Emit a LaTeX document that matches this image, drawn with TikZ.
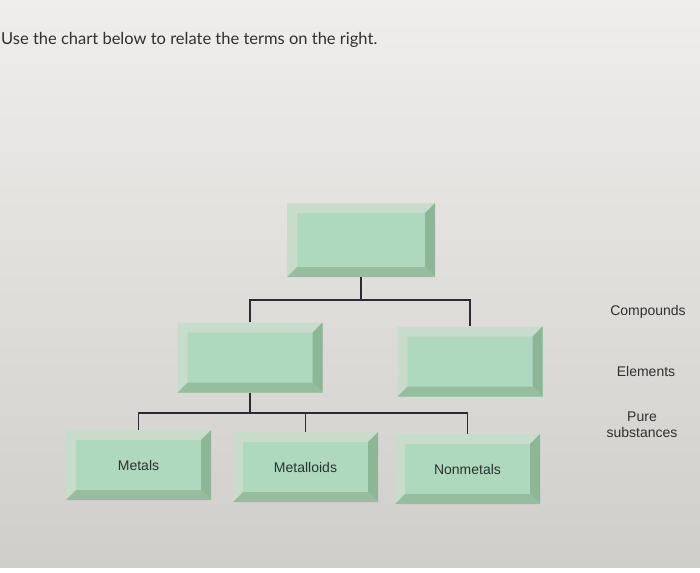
\documentclass[tikz,border=0pt]{standalone}
\usepackage{fontspec}
\setmainfont{Liberation Sans}
\newfontfamily\titlefont{Lato}
\definecolor{screen}{HTML}{EFEEEC}
\definecolor{screenlow}{HTML}{CFCECA}
\definecolor{face}{HTML}{AED9BF}
\definecolor{bevlight}{HTML}{C8DCCB}
\definecolor{bevdark}{HTML}{8DB694}
\definecolor{bevlow}{HTML}{96BE9E}
\definecolor{wire}{HTML}{2B2B36}
\definecolor{ink}{HTML}{303030}
\tikzset{
	box/.style={minimum width=145pt, minimum height=70pt, inner sep=0pt, fill=face,
		font=\fontsize{14}{16}\selectfont, text=ink,
		path picture={
			\fill[bevlight] (path picture bounding box.south west) -- (path picture bounding box.north west)
				-- (path picture bounding box.north east) -- ([shift={(-10pt,-10pt)}]path picture bounding box.north east)
				-- ([shift={(10pt,-10pt)}]path picture bounding box.north west) -- ([shift={(10pt,10pt)}]path picture bounding box.south west) -- cycle;
			\fill[bevdark] (path picture bounding box.north east) -- (path picture bounding box.south east)
				-- ([shift={(-10pt,10pt)}]path picture bounding box.south east) -- ([shift={(-10pt,-10pt)}]path picture bounding box.north east) -- cycle;
			\fill[bevlow] (path picture bounding box.south west) -- (path picture bounding box.south east)
				-- ([shift={(-10pt,10pt)}]path picture bounding box.south east) -- ([shift={(10pt,10pt)}]path picture bounding box.south west) -- cycle;
		}},
	link/.style={draw=wire, line width=1.8pt},
	term/.style={font=\fontsize{14}{16}\selectfont, text=ink, align=center}
}
\begin{document}
\begin{tikzpicture}[x=1pt, y=-1pt]
		\shade[top color=screen, bottom color=screenlow] (0,0) rectangle (700,568);
		\fill[white] (0,568) rectangle (700,572);
		\useasboundingbox (0,0) rectangle (700,572);

		\node[anchor=west, font=\titlefont\fontsize{16.5}{19}\selectfont, text=ink, inner sep=0pt] (title) at (1, 40) {Use the chart below to relate the terms on the right.};

		\node[box, minimum width=148pt, minimum height=74pt] (substance) at (361, 240) {};
		\node[box] (pure) at (250, 357.5) {};
		\node[box] (mixed) at (470, 361.5) {};
		\node[box] (metals) at (138.5, 465) {Metals};
		\node[box] (metalloids) at (305.5, 467) {Metalloids};
		\node[box] (nonmetals) at (467.5, 469) {Nonmetals};

		\draw[link] (substance.south) -- ++(0,23) coordinate (split);
		\draw[link] (pure.north) |- (split) -| (mixed.north);
		\draw[link] (pure.south) -- ++(0,20) coordinate (branch);
		\draw[link] (metals.north) |- (branch) -| (nonmetals.north);
		\draw[link] (metalloids.north) -- (metalloids.north |- branch);

		\node[term] (compounds) at (648, 312) {Compounds};
		\node[term] (elements) at (646, 371) {Elements};
		\node[term] (puresub) at (642, 425) {Pure\\substances};
	\end{tikzpicture}
\end{document}
